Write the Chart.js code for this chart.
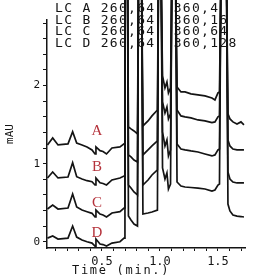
<!DOCTYPE html>
<html>
<head>
<meta charset="utf-8">
<script src="https://cdn.jsdelivr.net/npm/chart.js@4.4.0/dist/chart.umd.min.js"></script>
<style>
  html, body { margin: 0; padding: 0; background: #fff; }
  canvas { display: block; }
</style>
</head>
<body>
<canvas id="myChart" width="270" height="276"></canvas>
<script>
// time (min) shared by all four traces
var times = [0.030, 0.075, 0.121, 0.207, 0.247, 0.282, 0.328, 0.371, 0.414, 0.440,
             0.448, 0.483, 0.509, 0.539, 0.586, 0.655, 0.690, 0.698, 0.720, 0.728,
             0.750, 0.776, 0.806, 0.815, 0.841, 0.853, 0.897, 0.931, 0.978, 0.987,
             1.009, 1.022, 1.043, 1.060, 1.073, 1.091, 1.103, 1.134, 1.147, 1.181,
             1.216, 1.267, 1.328, 1.388, 1.448, 1.474, 1.500, 1.513, 1.526, 1.573,
             1.586, 1.603, 1.629, 1.664, 1.698, 1.724];

// mAU, off-scale peaks read as 3.5
var traceA = [1.240, 1.329, 1.240, 1.253, 1.410, 1.265, 1.240, 1.214, 1.176, 1.124,
              1.214, 1.167, 1.156, 1.124, 1.201, 1.214, 1.253, 3.5, 3.5, 1.471,
              1.445, 1.419, 1.381, 3.5, 3.5, 1.483, 1.547, 1.612, 1.688, 3.5,
              3.5, 2.124, 1.971, 2.047, 1.906, 1.971, 3.5, 3.5, 1.983, 1.919,
              1.919, 1.894, 1.881, 1.868, 1.842, 1.817, 1.906, 1.919, 3.5, 3.5,
              1.637, 1.573, 1.535, 1.509, 1.535, 1.496];
var traceB = [0.817, 0.894, 0.817, 0.829, 1.013, 0.833, 0.804, 0.782, 0.769, 0.727,
              0.817, 0.756, 0.746, 0.727, 0.791, 0.817, 0.842, 3.5, 3.5, 1.112,
              1.086, 1.047, 1.022, 3.5, 3.5, 1.112, 1.176, 1.227, 1.291, 3.5,
              3.5, 1.791, 1.650, 1.727, 1.573, 1.637, 3.5, 3.5, 1.688, 1.612,
              1.599, 1.586, 1.560, 1.547, 1.526, 1.535, 1.599, 1.612, 3.5, 3.5,
              1.304, 1.227, 1.188, 1.176, 1.176, 1.176];
var traceC = [0.419, 0.471, 0.419, 0.432, 0.612, 0.445, 0.406, 0.385, 0.364, 0.317,
              0.406, 0.355, 0.342, 0.317, 0.368, 0.385, 0.432, 3.5, 3.5, 0.727,
              0.688, 0.637, 0.599, 3.5, 3.5, 0.727, 0.791, 0.855, 0.919, 3.5,
              3.5, 1.406, 1.227, 1.304, 1.099, 1.176, 3.5, 3.5, 1.253, 1.188,
              1.176, 1.163, 1.150, 1.124, 1.099, 1.112, 1.176, 1.188, 3.5, 3.5,
              0.894, 0.804, 0.765, 0.753, 0.753, 0.753];
var traceD = [0.047, 0.073, 0.035, 0.047, 0.201, 0.060, 0.022, 0.000, -0.017, -0.055,
              0.035, -0.029, -0.036, -0.055, -0.017, 0.000, 0.047, 3.5, 3.5, 0.329,
              0.278, 0.227, 0.201, 3.5, 3.5, 0.355, 0.368, 0.381, 0.406, 3.5,
              3.5, 0.945, 0.804, 0.881, 0.676, 0.740, 3.5, 3.5, 0.765, 0.714,
              0.701, 0.695, 0.688, 0.676, 0.650, 0.663, 0.727, 0.740, 3.5, 3.5,
              0.483, 0.394, 0.342, 0.329, 0.323, 0.317];

var traceNames = ['A', 'B', 'C', 'D'];
var headerLines = ['LC A 260,64  360,4', 'LC B 260,64  360,16', 'LC C 260,64  360,64', 'LC D 260,64  360,128'];

var xTicks = [0.1, 0.2, 0.3, 0.4, 0.5, 0.6, 0.7, 0.8, 0.9, 1.0, 1.1, 1.2, 1.3, 1.4, 1.5, 1.6, 1.7];
var xTickLabels = ['', '', '', '', '0.5', '', '', '', '', '1.0', '', '', '', '', '1.5', '', ''];
var yTicks = [0, 0.2, 0.4, 0.6, 0.8, 1, 1.2, 1.4, 1.6, 1.8, 2, 2.2, 2.4, 2.6, 2.8];
var yTickLabels = ['0', '', '', '', '', '1', '', '', '', '', '2', '', '', '', ''];
var xTitle = 'Time (min.)';
var yTitle = 'mAU';

var ink = '#141414';
var mono = '"DejaVu Sans Mono", monospace';

function toPoints(vals) {
    return times.map(function (t, i) { return { x: t, y: vals[i] }; });
}

// header, red trace letters, x title
var textPlugin = {
    id: 'chromText',
    afterDraw: function (chart) {
        var ctx = chart.ctx;
        var xs = chart.scales.x, ys = chart.scales.y;
        ctx.save();
        ctx.fillStyle = ink;
        ctx.font = '13px ' + mono;
        ctx.letterSpacing = '1.3px';
        ctx.textBaseline = 'alphabetic';
        headerLines.forEach(function (s, i) {
            ctx.fillText(s, 55, 12 + i * 11.5);
        });
        ctx.font = '12px ' + mono;
        ctx.letterSpacing = '1.7px';
        ctx.fillText(xTitle, 72, 274);

        // 紅字 A-D
        ctx.letterSpacing = '0px';
        ctx.fillStyle = '#b5323b';
        ctx.font = '15px "Liberation Serif", serif';
        ctx.textAlign = 'center';
        ctx.textBaseline = 'middle';
        var labelVals = [1.42, 0.96, 0.50, 0.11];
        traceNames.forEach(function (n, i) {
            ctx.fillText(n, xs.getPixelForValue(0.457), ys.getPixelForValue(labelVals[i]));
        });
        ctx.restore();
    }
};

var datasets = [traceA, traceB, traceC, traceD].map(function (vals, i) {
    return {
        label: traceNames[i],
        data: toPoints(vals),
        borderColor: ink,
        borderWidth: 1.7,
        pointRadius: 0,
        tension: 0,
        fill: false,
        clip: false
    };
});

Chart.defaults.font.family = mono;
Chart.defaults.color = ink;

var ctx = document.getElementById('myChart');
var myChart = new Chart(ctx, {
    type: 'line',
    data: { datasets: datasets },
    options: {
        responsive: false,
        animation: false,
        layout: { padding: { top: 20, right: 25, left: 0, bottom: 0 } },
        plugins: {
            legend: { display: false },
            tooltip: { enabled: false }
        },
        scales: {
            x: {
                type: 'linear',
                min: 0.026,
                max: 1.733,
                afterBuildTicks: function (scale) {
                    scale.ticks = xTicks.map(function (v) { return { value: v }; });
                },
                afterFit: function (scale) { scale.height = 28; },
                ticks: {
                    autoSkip: false,
                    maxRotation: 0,
                    padding: 4,
                    font: { size: 12 },
                    color: ink,
                    callback: function (v, i) { return xTickLabels[i]; }
                },
                grid: { drawOnChartArea: false, drawTicks: true, tickLength: 3, color: ink },
                border: { display: true, color: ink, width: 1.5 }
            },
            y: {
                type: 'linear',
                min: -0.08,
                max: 2.84,
                afterBuildTicks: function (scale) {
                    scale.ticks = yTicks.map(function (v) { return { value: v }; });
                },
                afterFit: function (scale) { scale.width = 47; },
                ticks: {
                    autoSkip: false,
                    padding: 3,
                    font: { size: 11 },
                    color: ink,
                    callback: function (v, i) { return yTickLabels[i]; }
                },
                title: { display: true, text: yTitle, font: { size: 11 }, color: ink },
                grid: { drawOnChartArea: false, drawTicks: true, tickLength: 4, color: ink },
                border: { display: true, color: ink, width: 1.5 }
            }
        }
    },
    plugins: [textPlugin]
});
</script>
</body>
</html>
